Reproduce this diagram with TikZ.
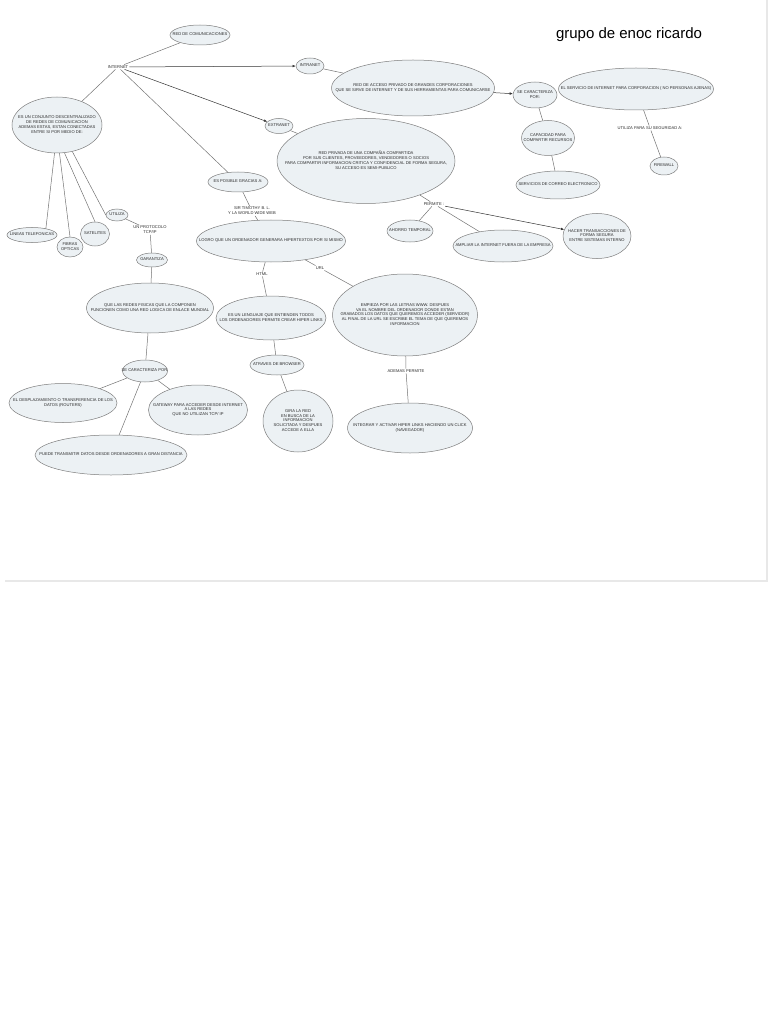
\documentclass[tikz,border=0pt]{standalone}
\usepackage{fontspec}
\setmainfont{Liberation Sans}
\usetikzlibrary{shapes.geometric,arrows.meta}

\definecolor{relleno}{RGB}{236,241,244}
\definecolor{borde}{RGB}{125,125,125}
\definecolor{linea}{RGB}{115,115,115}
\definecolor{texto}{RGB}{40,40,40}

% text of a bubble, centred, not widening the ellipse
\newcommand{\globo}[1]{\makebox[0pt]{\begin{tabular}{@{}c@{}}#1\end{tabular}}}

\tikzset{
  burbuja/.style={ellipse, draw=borde, line width=0.5pt, fill=relleno, inner sep=0pt, text=texto, font=\fontsize{4.1}{4.9}\selectfont},
  etiqueta/.style={inner sep=0.8pt, align=center, text=texto, font=\fontsize{4.1}{4.9}\selectfont},
  enlace/.style={draw=linea, line width=0.5pt},
  flecha/.style={enlace, -{Latex[length=3.2pt,width=2.6pt]}, color=black!80},
}

\begin{document}
\begin{tikzpicture}[x=1pt,y=-1pt]
  \useasboundingbox (0,0) rectangle (768,1024);
  % Frame
  \draw[gray!18, line width=1.2pt] (5,581) -- (767,581) -- (767,0);
  % Title
  \node[font=\fontsize{15}{18}\selectfont] (titulo) at (629,35) {grupo de enoc ricardo};

  % Internet
  \node[etiqueta] (internet) at (118,67) {INTERNET};
  \node[burbuja, minimum width=60pt, minimum height=20pt] (redcom) at (200,35) {\globo{RED DE COMUNICACIONES}};
  \node[burbuja, minimum width=90pt, minimum height=56pt] (conjunto) at (57,125) {\globo{ES UN CONJUNTO DESCENTRALIZADO\\DE REDES DE COMUNICACION\\ADEMAS ESTAS, ESTAN CONECTADAS\\ENTRE SI POR MEDIO DE:}};

  % Intranet
  \node[burbuja, minimum width=28pt, minimum height=16pt] (intranet) at (310,66) {\globo{INTRANET}};
  \node[burbuja, minimum width=163pt, minimum height=56pt] (accpriv) at (413,88) {\globo{RED DE ACCESO PRIVADO DE GRANDES CORPORACIONES\\QUE SE SIRVE DE INTERNET Y DE SUS HERRAMIENTAS PARA COMUNICARSE}};
  \node[burbuja, minimum width=44pt, minimum height=26pt] (caract1) at (535,95) {\globo{SE CARACTERIZA\\POR:}};
  \node[burbuja, minimum width=155pt, minimum height=42pt] (servicio) at (636,89) {\globo{EL SERVICIO DE INTERNET PARA CORPORACION ( NO PERSONAS AJENAS)}};
  \node[burbuja, minimum width=53pt, minimum height=35pt] (capacidad) at (548,138) {\globo{CAPACIDAD PARA\\COMPARTIR RECURSOS}};
  \node[etiqueta] (seguridad) at (650,128) {UTILIZA PARA SU SEGURIDAD A:};
  \node[burbuja, minimum width=28pt, minimum height=18pt] (firewall) at (664,166) {\globo{FIREWALL}};
  \node[burbuja, minimum width=84pt, minimum height=28pt] (correo) at (558,185) {\globo{SERVICIOS DE CORREO ELECTRONICO}};

  % Extranet
  \node[burbuja, minimum width=28pt, minimum height=15pt] (extranet) at (279,126) {\globo{EXTRANET}};
  \node[burbuja, minimum width=178pt, minimum height=85pt] (redpriv) at (366,161) {\globo{RED PRIVADA DE UNA COMPA\~NIA COMPARTIDA\\POR SUS CLIENTES, PROVEEDORES, VENDEDORES O SOCIOS\\PARA COMPARTIR INFORMACION CRITICA Y CONFIDENCIAL DE FORMA SEGURA,\\SU ACCESO ES SEMI-PUBLICO}};
  \node[etiqueta] (permite) at (434,204) {PERMITE :};
  \node[burbuja, minimum width=46pt, minimum height=22pt] (ahorro) at (410,231) {\globo{AHORRO TEMPORAL}};
  \node[burbuja, minimum width=100pt, minimum height=32pt] (ampliar) at (503,246) {\globo{AMPLIAR LA INTERNET FUERA DE LA EMPRESA}};
  \node[burbuja, minimum width=68pt, minimum height=45pt] (transacc) at (597,236) {\globo{HACER TRANSACCIONES DE\\FORMA SEGURA\\ENTRE SISTEMAS INTERNO}};

  % Web
  \node[burbuja, minimum width=60pt, minimum height=20pt] (posible) at (238,182) {\globo{ES POSIBLE GRACIAS A:}};
  \node[etiqueta] (timothy) at (252,211) {SIR TIMOTHY B. L.\\Y LA WORLD WIDE WEB};
  \node[burbuja, minimum width=149pt, minimum height=42pt] (logro) at (271,241) {\globo{LOGRO QUE UN ORDENADOR GENERARA HIPERTEXTOS POR SI MISMO}};
  \node[etiqueta] (html) at (262,274) {HTML};
  \node[etiqueta] (url) at (320,268) {URL};
  \node[burbuja, minimum width=110pt, minimum height=44pt] (lenguaje) at (271,318) {\globo{ES UN LENGUAJE QUE ENTIENDEN TODOS\\LOS ORDENADORES PERMITE CREAR HIPER LINKS}};
  \node[burbuja, minimum width=145pt, minimum height=82pt] (empieza) at (405,315) {\globo{EMPIEZA POR LAS LETRAS WWW. DESPUES\\VA EL NOMBRE DEL ORDENADOR DONDE ESTAN\\GRABADOS LOS DATOS QUE QUEREMOS ACCEDER (SERVIDOR)\\AL FINAL DE LA URL SE ESCRIBE EL TEMA DE QUE QUEREMOS\\INFORMACION}};
  \node[burbuja, minimum width=54pt, minimum height=20pt] (browser) at (277,365) {\globo{ATRAVES DE BROWSER}};
  \node[burbuja, minimum width=70pt, minimum height=62pt] (gira) at (298,421) {\globo{GIRA LA RED\\EN BUSCA DE LA\\INFORMACION\\SOLICITADA Y DESPUES\\ACCEDE A ELLA}};
  \node[etiqueta] (ademas) at (406,371) {ADEMAS PERMITE};
  \node[burbuja, minimum width=125pt, minimum height=50pt] (integrar) at (410,428) {\globo{INTEGRAR Y ACTIVAR HIPER LINKS HACIENDO UN CLICK\\(NAVEGADOR)}};

  % Medios y protocolo
  \node[burbuja, minimum width=50pt, minimum height=15pt] (lineas) at (32,235) {\globo{LINEAS TELEFONICAS}};
  \node[burbuja, minimum width=26pt, minimum height=20pt] (fibras) at (70,247) {\globo{FIBRAS\\OPTICAS}};
  \node[burbuja, minimum width=29pt, minimum height=24pt] (satelites) at (95,234) {\globo{SATELITES}};
  \node[burbuja, minimum width=22pt, minimum height=12pt] (utiliza) at (117,215) {\globo{UTILIZA}};
  \node[etiqueta] (protocolo) at (150,230) {UN PROTOCOLO\\TCP/IP};
  \node[burbuja, minimum width=31pt, minimum height=14pt] (garantiza) at (152,260) {\globo{GARANTIZA}};
  \node[burbuja, minimum width=127pt, minimum height=50pt] (redesfis) at (150,308) {\globo{QUE LAS REDES FISICAS QUE LA COMPONEN\\FUNCIONEN COMO UNA RED LOGICA DE ENLACE MUNDIAL}};
  \node[burbuja, minimum width=45pt, minimum height=22pt] (caract2) at (145,371) {\globo{SE CARACTERIZA POR:}};
  \node[burbuja, minimum width=108pt, minimum height=39pt] (desplaz) at (63,403) {\globo{EL DESPLAZAMIENTO O TRANSFERENCIA DE LOS\\DATOS (ROUTERS)}};
  \node[burbuja, minimum width=99pt, minimum height=50pt] (gateway) at (198,410) {\globo{GATEWAY PARA ACCEDER DESDE INTERNET\\A LAS REDES\\QUE NO UTILIZAN TCP/ IP}};
  \node[burbuja, minimum width=152pt, minimum height=40pt] (transmitir) at (111,455) {\globo{PUEDE TRANSMITIR DATOS DESDE ORDENADORES A GRAN DISTANCIA}};

  % Connectors
  \draw[enlace] (internet) -- (redcom);
  \draw[flecha] (internet) -- (intranet);
  \draw[flecha] (internet) -- (extranet);
  \draw[enlace] (internet) -- (posible);
  \draw[enlace] (internet) -- (conjunto);

  \draw[enlace] (intranet) -- (accpriv);
  \draw[flecha] (accpriv) -- (caract1);
  \draw[enlace] (caract1) -- (capacidad);
  \draw[enlace] (capacidad) -- (correo);
  \draw[enlace] (servicio) -- (seguridad) -- (firewall);

  \draw[enlace] (extranet) -- (redpriv);
  \draw[enlace] (redpriv) -- (permite);
  \draw[enlace] (permite) -- (ahorro);
  \draw[enlace] (permite) -- (ampliar);
  \draw[flecha] (permite) -- (transacc);

  \draw[enlace] (posible) -- (timothy) -- (logro);
  \draw[enlace] (logro) -- (html) -- (lenguaje);
  \draw[enlace] (logro) -- (url) -- (empieza);
  \draw[enlace] (lenguaje) -- (browser) -- (gira);
  \draw[enlace] (empieza) -- (ademas) -- (integrar);

  \draw[enlace] (conjunto.265) -- (lineas.25);
  \draw[enlace] (conjunto.275) -- (fibras.north);
  \draw[enlace] (conjunto.285) -- (satelites.north);
  \draw[enlace] (conjunto.300) -- (utiliza.west);
  \draw[enlace] (utiliza) -- (protocolo) -- (garantiza) -- (redesfis) -- (caract2);
  \draw[enlace] (caract2) -- (desplaz);
  \draw[enlace] (caract2) -- (gateway);
  \draw[enlace] (caract2) -- (transmitir);
\end{tikzpicture}
\end{document}
